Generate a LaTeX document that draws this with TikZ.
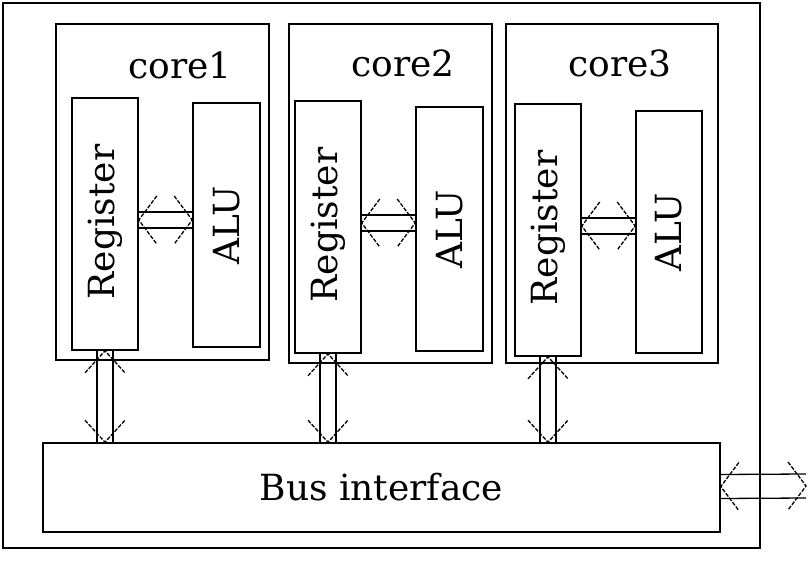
\documentclass[tikz,border=0pt]{standalone}
\usepackage{fontspec}
\setmainfont{DejaVu Serif}
\usetikzlibrary{calc}
\tikzset{box/.style={draw,line width=1.6pt,inner sep=0pt},
 lbl/.style={font=\fontsize{36}{36}\selectfont},
 arr/.style={line width=1.3pt},
 head/.style={line width=1.3pt,dash pattern=on 4pt off 1.5pt}}
\newcommand\varr[3]{%
 \draw[arr] ($#1+(-#3,0)$) -- ($#2+(-#3,0)$) ($#1+(#3,0)$) -- ($#2+(#3,0)$);
 \draw[head] ($#1+(-20,22)$) -- #1 -- ($#1+(20,22)$);
 \draw[head] ($#2+(-20,-22)$) -- #2 -- ($#2+(20,-22)$);}
\newcommand\harr[3]{%
 \draw[arr] ($#1+(0,-#3)$) -- ($#2+(0,-#3)$) ($#1+(0,#3)$) -- ($#2+(0,#3)$);
 \draw[head] ($#1+(18,-24)$) -- #1 -- ($#1+(18,24)$);
 \draw[head] ($#2+(-18,-24)$) -- #2 -- ($#2+(-18,24)$);}
\begin{document}
\begin{tikzpicture}[x=1pt,y=-1pt]
\useasboundingbox (0,0) rectangle (808,561);
\draw[box] (3,3) rectangle (760,548);
\foreach \n/\a/\b/\c/\d in {c1/56/24/269/360,c2/289/24/492/363,c3/506/24/718/363,
 r1/72/98/138/350,a1/193/103/260/347,r2/295/101/361/353,a2/416/107/483/351,
 r3/515/104/581/356,a3/636/111/702/353,bus/43/443/720/532}
 \node[box,minimum width=\c-\a,minimum height=\d-\b] (\n) at ({(\a+\c)/2},{(\b+\d)/2}) {};
\node[lbl] at (180,65) {core1};
\node[lbl] at (403,63) {core2};
\node[lbl] at (620,63) {core3};
\foreach \i in {1,2,3}{
 \node[lbl,rotate=90] at ($(r\i)+(0,-2)$) {Register};
 \node[lbl,rotate=90] at (a\i) {ALU};
 \coordinate (p\i) at ($(r\i.east)+(0,-4)$);
 \coordinate (q\i) at (p\i -| a\i.west);
 \harr{(p\i)}{(q\i)}{8}
 \coordinate (s\i) at (r\i.south);
 \coordinate (t\i) at (r\i.south |- bus.north);
 \varr{(s\i)}{(t\i)}{8}
}
\node[lbl] at (bus) {Bus interface};
\coordinate (e1) at ($(bus.east)+(0,-1)$);
\coordinate (e2) at (806,486);
\harr{(e1)}{(e2)}{12}
\end{tikzpicture}
\end{document}
